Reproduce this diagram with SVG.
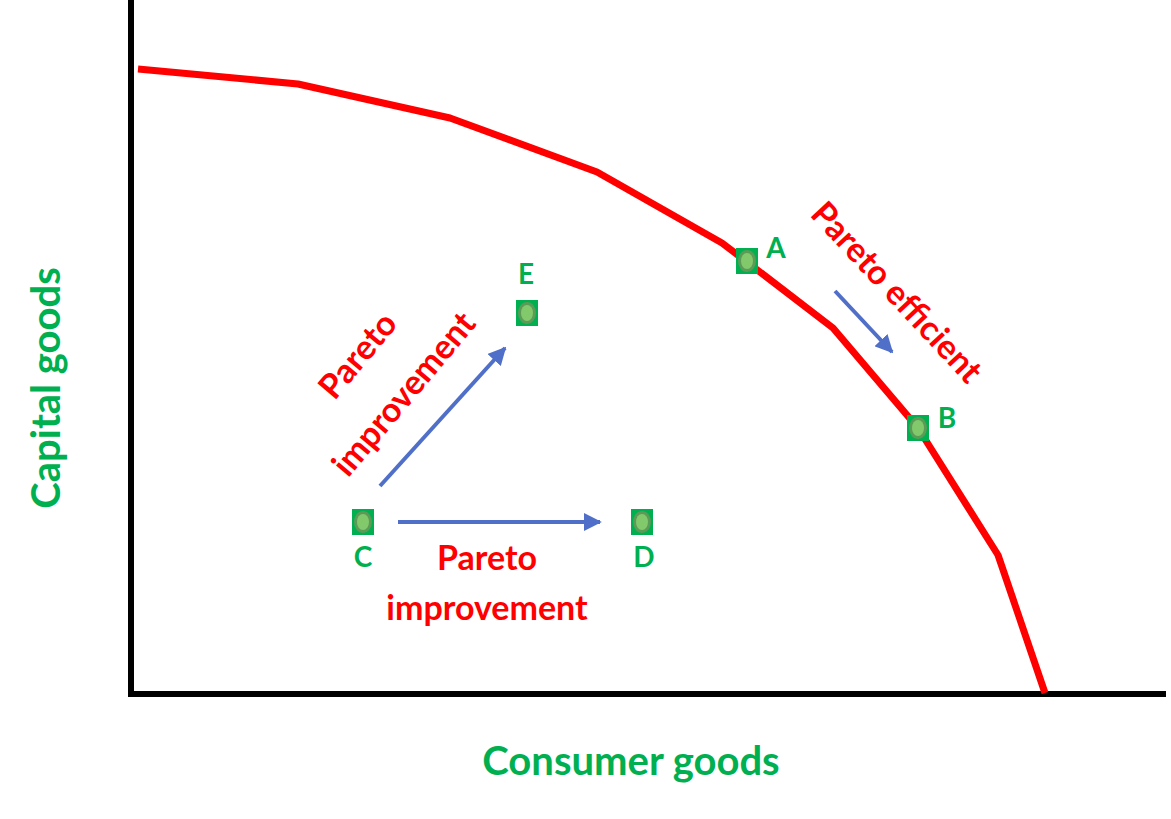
<svg xmlns="http://www.w3.org/2000/svg" width="1171" height="819" viewBox="0 0 1171 819">
<style>
.lbl{font-family:Lato,"Open Sans",sans-serif;font-weight:bold;fill:#00b050}
.red{font-family:Lato,"Open Sans",sans-serif;font-weight:bold;fill:#ff0000;font-size:34px;text-anchor:middle}
.arr{stroke:#4f6fc8;stroke-width:4;fill:none;marker-end:url(#ah)}
</style>
<defs>
<marker id="ah" viewBox="0 0 10 10" refX="9" refY="5" markerWidth="4.5" markerHeight="4.5" orient="auto" markerUnits="strokeWidth"><path d="M0,0L10,5L0,10z" fill="#4f6fc8"/></marker>
<g id="pt"><rect x="-11" y="-13" width="22" height="26" fill="#00b050"/><ellipse rx="9" ry="11" fill="#5b9b57"/><ellipse rx="6" ry="8" fill="#82c96c"/></g>
</defs>
<rect width="1171" height="819" fill="#fff"/>
<g id="axes" stroke="#000" stroke-width="6" fill="none"><path d="M131,0V697M128,694H1166"/></g>
<g id="frontier"><polyline points="138,69 298,84 450,118 597,172 722,243 747,262 833,328 918,428 998,555 1045,693" fill="none" stroke="#ff0000" stroke-width="7" stroke-linejoin="round"/></g>
<g id="connectors">
<path class="arr" d="M380,486L505,348"/>
<path class="arr" d="M398,522L600,522"/>
<path class="arr" d="M835,291L892,352"/>
</g>
<g id="A"><use href="#pt" x="747" y="261"/><text class="lbl" x="776" y="258" font-size="28" text-anchor="middle">A</text></g>
<g id="B"><use href="#pt" x="918" y="428"/><text class="lbl" x="947" y="428" font-size="28" text-anchor="middle">B</text></g>
<g id="C"><use href="#pt" x="363" y="522"/><text class="lbl" x="363" y="567" font-size="28" text-anchor="middle">C</text></g>
<g id="D"><use href="#pt" x="642" y="522"/><text class="lbl" x="644" y="567" font-size="28" text-anchor="middle">D</text></g>
<g id="E"><use href="#pt" x="527" y="313"/><text class="lbl" x="526" y="284" font-size="28" text-anchor="middle">E</text></g>
<text class="red" transform="translate(897,292) rotate(47)" y="12">Pareto efficient</text>
<g transform="translate(405,395) rotate(-50)"><text class="red" y="-50">Pareto</text><text class="red" y="10">improvement</text></g>
<text class="red" x="487" y="570">Pareto</text>
<text class="red" x="487" y="620">improvement</text>
<text class="lbl" x="631" y="775" font-size="40" text-anchor="middle">Consumer goods</text>
<text class="lbl" transform="translate(60,388) rotate(-90)" font-size="40" text-anchor="middle">Capital goods</text>
</svg>
